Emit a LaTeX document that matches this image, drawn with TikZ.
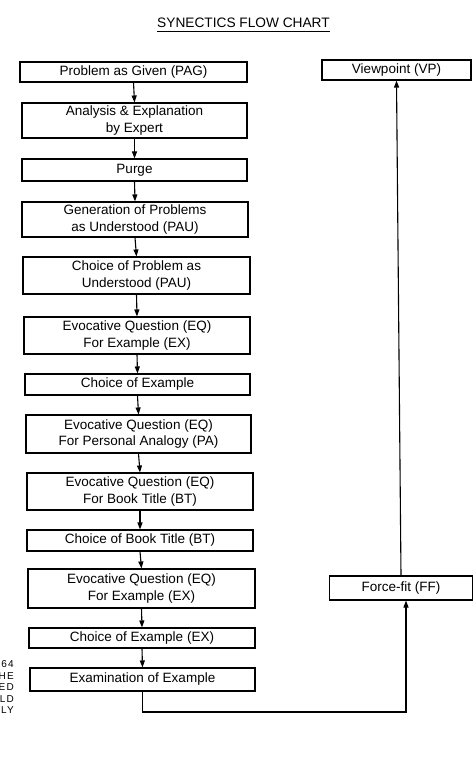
\documentclass[tikz,border=0pt]{standalone}
\usepackage{fontspec}
\setmainfont{Liberation Sans}
\newfontfamily\fragfont[LetterSpace=12]{Liberation Sans}
\usetikzlibrary{arrows.meta}
\tikzset{
  box/.style={draw, line width=1.1pt, inner sep=0pt, align=center, font=\fontsize{13.5}{16.5}\selectfont, anchor=center},
  flow/.style={line width=1.1pt, -{Triangle[length=7pt,width=5pt]}},
  frag/.style={anchor=east, inner sep=0pt, font=\fragfont\fontsize{10}{11}\selectfont}
}
\begin{document}
\begin{tikzpicture}[x=1pt,y=-1pt]
\useasboundingbox (0,0) rectangle (474,770);
\node[anchor=base, inner sep=0pt, font=\fontsize{13.7}{16}\selectfont] (title) at (243.5,28) {SYNECTICS FLOW CHART};
\draw[line width=1pt] (title.south west |- 0,32) -- (title.south east |- 0,32);

\node[box, minimum width=227pt, minimum height=20pt] (b1) at (133.5,72) {Problem as Given (PAG)};
\node[box, minimum width=225pt, minimum height=35pt] (b2) at (134.5,120.5) {Analysis \& Explanation\\by Expert};
\node[box, minimum width=225pt, minimum height=22pt] (b3) at (134.5,170) {Purge};
\node[box, minimum width=226pt, minimum height=35pt] (b4) at (135,219.5) {Generation of Problems\\as Understood (PAU)};
\node[box, minimum width=227pt, minimum height=37pt] (b5) at (136.5,275.5) {Choice of Problem as\\Understood (PAU)};
\node[box, minimum width=226pt, minimum height=37pt] (b6) at (137,335.5) {Evocative Question (EQ)\\For Example (EX)};
\node[box, minimum width=225pt, minimum height=21pt] (b7) at (137.5,384.5) {Choice of Example};
\node[box, minimum width=225pt, minimum height=38pt] (b8) at (138.5,434) {Evocative Question (EQ)\\For Personal Analogy (PA)};
\node[box, minimum width=226pt, minimum height=37pt] (b9) at (140,491.5) {Evocative Question (EQ)\\For Book Title (BT)};
\node[box, minimum width=226pt, minimum height=21pt] (b10) at (140,540.5) {Choice of Book Title (BT)};
\node[box, minimum width=227pt, minimum height=39pt] (b11) at (141.5,588.5) {Evocative Question (EQ)\\For Example (EX)};
\node[box, minimum width=226pt, minimum height=20pt] (b12) at (142,638) {Choice of Example (EX)};
\node[box, minimum width=225pt, minimum height=23pt] (b13) at (142.5,679.5) {Examination of Example};

\node[box, minimum width=143pt, minimum height=24pt] (ff) at (401,588) {Force-fit (FF)};
\node[box, minimum width=149pt, minimum height=20pt] (vp) at (396.5,70) {Viewpoint (VP)};

\foreach \a/\b in {b1/b2,b2/b3,b3/b4,b4/b5,b5/b6,b6/b7,b7/b8,b8/b9,b9/b10,b10/b11,b11/b12,b12/b13}
  \draw[flow] (\a.south) -- (\b.north);

\coordinate (turn) at (406,712);
\draw[flow] (b13.south) |- (turn) -- (turn |- ff.south);
\draw[flow] (ff.north) -- (vp.south);

\node[frag] (f1) at (14,664) {64};
\node[frag] (f2) at (14,676) {HE};
\node[frag] (f3) at (14,687) {ED};
\node[frag] (f4) at (14,699) {LD};
\node[frag] (f5) at (14,710) {LY};
\end{tikzpicture}
\end{document}
